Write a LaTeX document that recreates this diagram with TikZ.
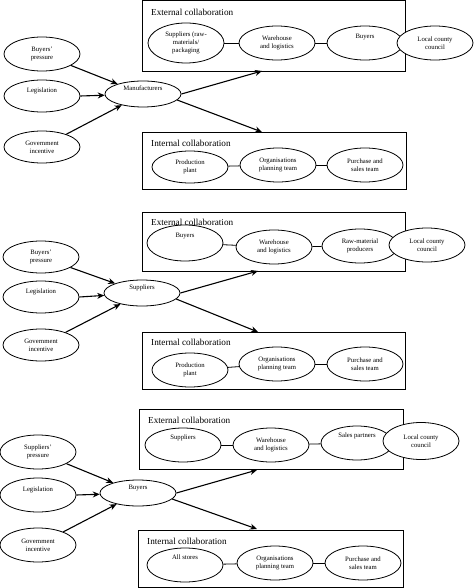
\documentclass[tikz,border=0pt]{standalone}
\usepackage{fontspec}
\setmainfont{Liberation Serif}
\usetikzlibrary{shapes.geometric,arrows.meta}
\tikzset{
  ell/.style={draw, fill=white, ellipse, line width=0.8pt, inner sep=0pt, align=center,
    font=\fontsize{6.7}{7.7}\selectfont, minimum width=76pt, minimum height=34pt},
  mid/.style={ell, minimum height=26pt},
  cbox/.style={draw, line width=0.9pt},
  blabel/.style={anchor=west, font=\fontsize{9.2}{11}\selectfont, inner sep=0pt},
  arr/.style={line width=1.1pt, -{Stealth[length=7pt,width=6pt]}},
  link/.style={line width=0.8pt},
}
\begin{document}
\begin{tikzpicture}[x=1pt,y=-1pt]
\useasboundingbox (0,0) rectangle (474,588);
% ================= Panel 1 =================
\draw[cbox] (142,0.6) rectangle (405,71);
\node[blabel] (lab1e) at (151,12) {External collaboration};
\node[ell, minimum height=40pt] (p1s) at (186,43) {Suppliers (raw-\\materials/\\packaging};
\node[ell] (p1w) at (277,43) {Warehouse\\and logistics};
\node[ell] (p1b) at (365,43) {Buyers\\[6pt]};
\node[ell] (p1l) at (435,43) {Local county\\council};
\draw[link] (p1s) -- (p1w);
\draw[link] (p1w) -- (p1b);

\draw[cbox] (142,132) rectangle (406,189);
\node[blabel] (lab1i) at (151,143) {Internal collaboration};
\node[ell, minimum height=32pt] (p1pp) at (190,167) {Production\\plant};
\node[ell] (p1o) at (278,165) {Organisations\\planning team};
\node[ell] (p1ps) at (365,165) {Purchase and\\sales team};
\draw[link] (p1pp) -- (p1o);
\draw[link] (p1o) -- (p1ps);

\node[mid] (p1m) at (143,94) {Manufacturers\\[4pt]};
\node[ell] (p1bp) at (42,54) {Buyers'\\pressure};
\node[ell, minimum height=32pt] (p1lg) at (42,96) {Legislation\\[4pt]};
\node[ell, minimum height=32pt] (p1g) at (42,147) {Government\\incentive};
\coordinate (p1et) at (262,71);
\coordinate (p1it) at (262,132);
\draw[arr] (p1bp) -- (p1m);
\draw[arr] (p1lg.east) -- (p1m);
\draw[arr] (p1g) -- (p1m);
\draw[arr] (p1m.east) -- (p1et);
\draw[arr] (p1m.-10) -- (p1it);

% ================= Panel 2 =================
\draw[cbox] (142,212) rectangle (405,271);
\node[blabel] (lab2e) at (151,222) {External collaboration};
\node[ell, minimum height=36pt] (p2b) at (185,243) {Buyers\\[8pt]};
\node[ell] (p2w) at (274,247) {Warehouse\\and logistics};
\node[ell] (p2r) at (360,246) {Raw-material\\producers};
\node[ell] (p2l) at (427,245) {Local county\\council};
\draw[link] (p2b) -- (p2w);
\draw[link] (p2w) -- (p2r);

\draw[cbox] (142,332) rectangle (405,389);
\node[blabel] (lab2i) at (151,342) {Internal collaboration};
\node[ell, minimum height=34pt] (p2pp) at (190,370) {Production\\plant};
\node[ell] (p2o) at (277,364) {Organisations\\planning team};
\node[ell] (p2ps) at (365,364) {Purchase and\\sales team};
\draw[link] (p2pp) -- (p2o);
\draw[link] (p2o) -- (p2ps);

\node[mid] (p2m) at (142,293) {Suppliers\\[4pt]};
\node[ell, minimum height=32pt] (p2bp) at (41,257) {Buyers'\\pressure};
\node[ell, minimum height=32pt] (p2lg) at (41,297) {Legislation\\[4pt]};
\node[ell, minimum height=32pt] (p2g) at (41,345) {Government\\incentive};
\coordinate (p2et) at (258,271);
\coordinate (p2it) at (258,332);
\draw[arr] (p2bp) -- (p2m);
\draw[arr] (p2lg.east) -- (p2m);
\draw[arr] (p2g) -- (p2m);
\draw[arr] (p2m.east) -- (p2et);
\draw[arr] (p2m.-10) -- (p2it);

% ================= Panel 3 =================
\draw[cbox] (139,409) rectangle (403,469);
\node[blabel] (lab3e) at (148,420) {External collaboration};
\node[ell] (p3s) at (183,445) {Suppliers\\[8pt]};
\node[ell] (p3w) at (271,445) {Warehouse\\and logistics};
\node[ell, minimum width=72pt] (p3sp) at (357,443) {Sales partners\\[8pt]};
\node[ell, minimum height=37pt] (p3l) at (421,441) {Local county\\council};
\draw[link] (p3s) -- (p3w);
\draw[link] (p3w) -- (p3sp);

\draw[cbox] (138,530) rectangle (403,587.4);
\node[blabel] (lab3i) at (147,541) {Internal collaboration};
\node[ell] (p3a) at (185,565) {All stores\\[8pt]};
\node[ell] (p3o) at (275,563) {Organisations\\planning team};
\node[ell] (p3ps) at (363,563) {Purchase and\\sales team};
\draw[link] (p3a) -- (p3o);
\draw[link] (p3o) -- (p3ps);

\node[mid] (p3m) at (138,493) {Buyers\\[4pt]};
\node[ell] (p3bp) at (38,452) {Suppliers'\\pressure};
\node[ell] (p3lg) at (38,495) {Legislation\\[4pt]};
\node[ell] (p3g) at (38,545) {Government\\incentive};
\coordinate (p3et) at (257,470);
\coordinate (p3it) at (257,529);
\draw[arr] (p3bp) -- (p3m);
\draw[arr] (p3lg.east) -- (p3m);
\draw[arr] (p3g) -- (p3m);
\draw[arr] (p3m.east) -- (p3et);
\draw[arr] (p3m.-10) -- (p3it);
\end{tikzpicture}
\end{document}
